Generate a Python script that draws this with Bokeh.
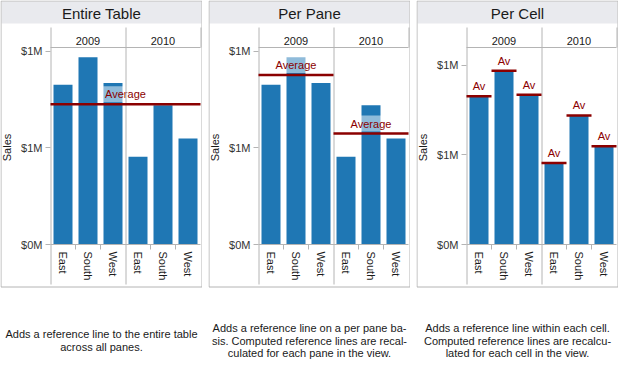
import statistics
from bokeh.plotting import figure
from bokeh.models import Range1d, LinearAxis, FixedTicker, ColumnDataSource
from bokeh.layouts import row
from bokeh.embed import file_html
from bokeh.resources import INLINE
from bokeh.core.properties import value

# ---------------- data ----------------
years = ["2009", "2010"]
regions = ["East", "South", "West"]
# Sales by (year, region): 2009 East, South, West, 2010 East, South, West
sales = [827000, 969000, 835000, 454000, 720000, 548000]
y_ticks = [0, 500000, 1000000]
y_tick_labels = ["$0M", "$1M", "$1M"]
panel_titles = ["Entire Table", "Per Pane", "Per Cell"]
scopes = ["table", "pane", "cell"]
ref_label_full = "Average"
ref_label_cell = "Av"
descriptions = [
    ["Adds a reference line to the entire table", "across all panes."],
    ["Adds a reference line on a per pane ba-",
     "sis. Computed reference lines are recal-",
     "culated for each pane in the view."],
    ["Adds a reference line within each cell.",
     "Computed reference lines are recalcu-",
     "lated for each cell in the view."],
]

# ---------------- style ----------------
FONT_NAME = "Liberation Sans"
FONT = value(FONT_NAME)
BLUE = "#1f77b4"
RED = "#8b0000"
GRAY = "#b4b4b4"
BAND = "#e9eaee"
TXT = "#333333"

n_reg = len(regions)
xs = [yi * n_reg + ri for yi in range(len(years)) for ri in range(n_reg)]
x_labels = [regions[ri] for yi in range(len(years)) for ri in range(n_reg)]
pane_centers = [yi * n_reg + (n_reg - 1) / 2 for yi in range(len(years))]
x_lo, x_hi = -0.5, len(xs) - 0.5
pane_bounds = [yi * n_reg - 0.5 for yi in range(1, len(years))]
inner_seps = [i + 0.5 for i in xs[:-1] if (i + 1) % n_reg != 0]


def ref_lines(scope):
    if scope == "table":
        m = statistics.mean(sales)
        return [x_lo], [x_hi], [m], [(x_lo + x_hi) / 2], [ref_label_full]
    if scope == "pane":
        x0, x1, yv, lx, lt = [], [], [], [], []
        for yi in range(len(years)):
            vals = sales[yi * n_reg:(yi + 1) * n_reg]
            x0.append(yi * n_reg - 0.5)
            x1.append(yi * n_reg + n_reg - 0.5)
            yv.append(statistics.mean(vals))
            lx.append(pane_centers[yi])
            lt.append(ref_label_full)
        return x0, x1, yv, lx, lt
    return ([i - 0.5 for i in xs], [i + 0.5 for i in xs], list(sales),
            list(xs), [ref_label_cell] * len(xs))


def make_panel(title, scope, desc, px_per_million):
    W, H = 202, 360
    AX = 50          # pixel column of x = -0.5
    ZERO = 244       # pixel row of y = 0
    PITCH = 25.0
    k = px_per_million / 1e6

    def X(px):
        return x_lo + (px - AX) / PITCH

    def Y(py):
        return (ZERO - py) / k

    p = figure(width=W, height=H, x_range=Range1d(X(0), X(W)),
               y_range=Range1d(Y(H), Y(0)), toolbar_location=None,
               output_backend="svg", title=None, x_axis_location=None,
               y_axis_location=None, min_border=0, outline_line_color=None,
               background_fill_color="white", border_fill_color="white")
    p.grid.visible = False

    # panel frame and title band
    p.quad(left=[X(1)], right=[X(W - 1)], top=[Y(1)], bottom=[Y(23)],
           fill_color=BAND, line_color=None)
    p.quad(left=[X(0.5)], right=[X(W - 0.5)], top=[Y(0.5)], bottom=[Y(286.5)],
           fill_color=None, line_color=GRAY, line_width=1)
    p.text(x=[X(W / 2)], y=[Y(12.5)], text=[title], text_align="center",
           text_baseline="middle", text_font_size="15px", text_font=FONT,
           text_color="#1a1a1a")

    # bars
    src = ColumnDataSource(dict(x=xs, top=sales))
    p.vbar(x="x", top="top", bottom=0, width=0.76, source=src,
           fill_color=BLUE, line_color=None)

    # reference lines and labels
    x0, x1, yv, lx, lt = ref_lines(scope)
    p.text(x=lx, y=yv, text=lt, text_align="center", text_baseline="bottom",
           y_offset=-2, text_font_size="11px", text_font=FONT, text_color=RED,
           background_fill_color="white", background_fill_alpha=0.5, padding=2)

    # table grid lines
    off = 0.5 / PITCH
    vx = [x_lo + off] + [b + off for b in pane_bounds] + [x_hi + off]
    vtop = [Y(27)] * len(vx)
    vbot = [Y(284)] + [Y(284)] * len(pane_bounds) + [Y(47)]
    p.segment(x0=vx, y0=vbot, x1=vx, y1=vtop, line_color=GRAY, line_width=1)

    p.segment(x0=x0, y0=yv, x1=x1, y1=yv, line_color=RED, line_width=2.5)

    # axes
    yax = LinearAxis(fixed_location=x_lo, bounds=(0, Y(50)),
                     ticker=FixedTicker(ticks=y_ticks),
                     major_label_overrides=dict(zip(y_ticks, y_tick_labels)),
                     axis_label="Sales", axis_line_color=None,
                     major_tick_line_color=GRAY, major_tick_out=5, major_tick_in=0,
                     minor_tick_line_color=None, major_label_standoff=3,
                     major_label_text_font_size="11px", major_label_text_font=FONT_NAME,
                     major_label_text_color=TXT, axis_label_text_font_size="11px",
                     axis_label_text_font=FONT_NAME, axis_label_text_font_style="normal",
                     axis_label_text_color="#1a1a1a", axis_label_standoff=5)
    p.add_layout(yax, "left")

    top_ax = LinearAxis(fixed_location=Y(47), bounds=(x_lo, x_hi),
                        ticker=FixedTicker(ticks=pane_centers),
                        major_label_overrides=dict(zip(pane_centers, years)),
                        axis_line_color=GRAY, major_tick_line_color=None,
                        major_tick_out=0, major_tick_in=0,
                        minor_tick_line_color=None, major_label_standoff=3,
                        major_label_text_font_size="11px", major_label_text_font=FONT_NAME,
                        major_label_text_color="#1a1a1a")
    p.add_layout(top_ax, "above")

    sep_ax = LinearAxis(fixed_location=0, ticker=FixedTicker(ticks=inner_seps),
                        major_label_overrides={t: "" for t in inner_seps},
                        axis_line_color=None, major_tick_line_color=GRAY,
                        major_tick_out=5, major_tick_in=0,
                        minor_tick_line_color=None)
    p.add_layout(sep_ax, "below")

    bot_ax = LinearAxis(fixed_location=0, bounds=(x_lo, x_hi),
                        ticker=FixedTicker(ticks=xs),
                        major_label_overrides=dict(zip(xs, x_labels)),
                        major_label_orientation="vertical",
                        axis_line_color=GRAY, major_tick_line_color=None,
                        major_tick_out=0, major_tick_in=0,
                        minor_tick_line_color=None, major_label_standoff=7,
                        major_label_text_font_size="11px", major_label_text_font=FONT_NAME,
                        major_label_text_color="#1a1a1a")
    p.add_layout(bot_ax, "below")

    # description
    n = len(desc)
    ys = [Y(340 + (i - (n - 1) / 2) * 12.5) for i in range(n)]
    p.text(x=[X(W / 2)] * n, y=ys, text=desc, text_align="center",
           text_baseline="middle", text_font_size="11px", text_font=FONT,
           text_color="#1a1a1a")
    return p


scales = [193.3, 193.3, 179.3]
panels = [make_panel(t, s, d, k) for t, s, d, k in
          zip(panel_titles, scopes, descriptions, scales)]
layout = row(*panels, spacing=6)

open("out.html", "w").write(file_html(layout, INLINE))
